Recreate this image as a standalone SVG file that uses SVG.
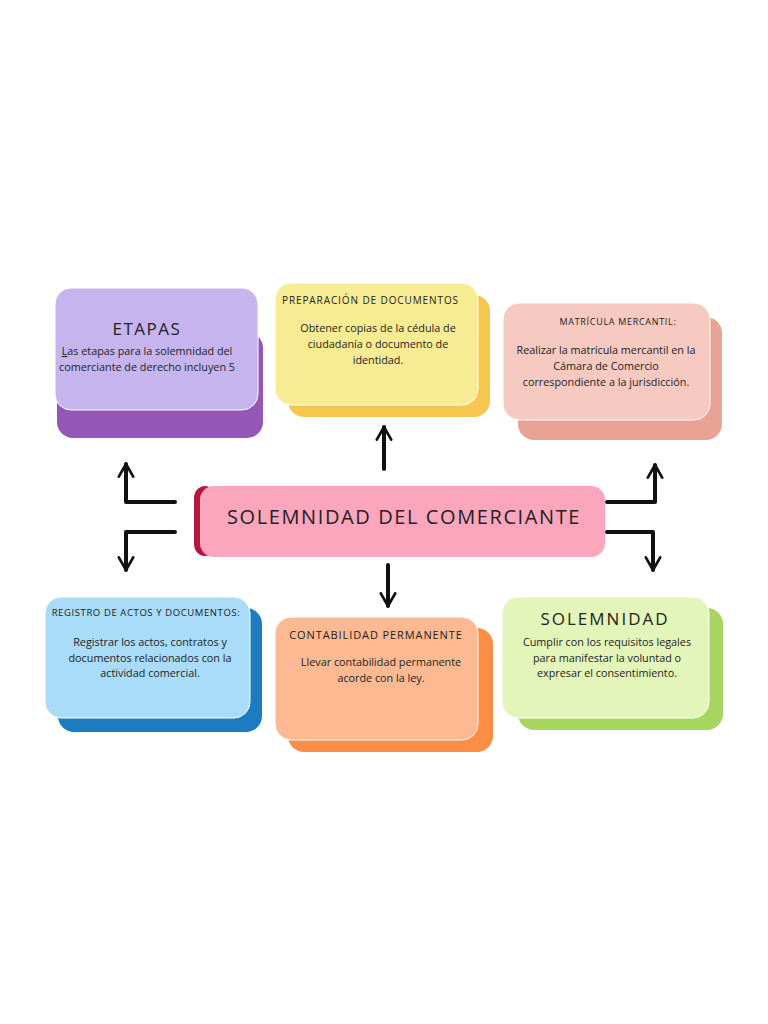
<svg xmlns="http://www.w3.org/2000/svg" width="768" height="1024" viewBox="0 0 768 1024">
<defs>
<style>
.title{font-family:"Open Sans","Noto Sans",sans-serif;fill:#222;}
.body{font-family:"Open Sans","Noto Sans",sans-serif;font-size:10.8px;fill:#222;text-anchor:middle;}
.front{stroke:#ffffff;stroke-width:1;}
.conn{stroke:#111;stroke-width:4;fill:none;stroke-linecap:round;stroke-linejoin:round;}
</style>
<marker id="ah" viewBox="0 0 10 10" refX="8" refY="5" markerWidth="4.5" markerHeight="4.5" orient="auto" markerUnits="strokeWidth">
<path d="M1,1 L8,5 L1,9" fill="none" stroke="#111" stroke-width="1.5" stroke-linecap="round" stroke-linejoin="round"/>
</marker>
</defs>
<rect width="768" height="1024" fill="#ffffff"/>

<g id="etapas">
<rect x="57" y="332" width="206" height="106" rx="16" fill="#9457b7"/>
<rect class="front" x="55" y="288" width="203" height="122" rx="16" fill="#c6b4ef"/>
<text class="title" x="147" y="335" font-size="17" text-anchor="middle" letter-spacing="1.5">ETAPAS</text>
<text class="body" x="147" y="355"><tspan text-decoration="underline">L</tspan>as etapas para la solemnidad del</text>
<text class="body" x="147" y="371">comerciante de derecho incluyen 5</text>
</g>

<g id="preparacion">
<rect x="288" y="295" width="202" height="122" rx="16" fill="#f7c74d"/>
<rect class="front" x="275" y="283" width="203" height="122" rx="16" fill="#f7ec93"/>
<text class="title" x="282" y="304" font-size="10" letter-spacing="0.9">PREPARACIÓN DE DOCUMENTOS</text>
<text class="body" x="378" y="332">Obtener copias de la cédula de</text>
<text class="body" x="378" y="348">ciudadanía o documento de</text>
<text class="body" x="378" y="364">identidad.</text>
</g>

<g id="matricula">
<rect x="518" y="317" width="204" height="123" rx="16" fill="#e9a394"/>
<rect class="front" x="503" y="303" width="207" height="117" rx="16" fill="#f6cac1"/>
<text class="title" x="618" y="325" font-size="9" text-anchor="middle" letter-spacing="0.7">MATRÍCULA MERCANTIL:</text>
<text class="body" x="606" y="354">Realizar la matrícula mercantil en la</text>
<text class="body" x="606" y="370">Cámara de Comercio</text>
<text class="body" x="606" y="386">correspondiente a la jurisdicción.</text>
</g>

<g id="centro">
<rect x="194" y="486" width="22" height="70" rx="12" fill="#b5173f"/>
<rect x="200" y="486" width="405" height="71" rx="14" fill="#fba6bd"/>
<text class="title" x="404" y="524" font-size="20" text-anchor="middle" letter-spacing="1.6">SOLEMNIDAD DEL COMERCIANTE</text>
</g>

<g id="registro">
<rect x="58" y="608" width="204" height="124" rx="16" fill="#1c7cbf"/>
<rect class="front" x="45" y="597" width="205" height="121" rx="16" fill="#a8dcf9"/>
<text class="title" x="146" y="616" font-size="9.5" text-anchor="middle" letter-spacing="0.6">REGISTRO DE ACTOS Y DOCUMENTOS:</text>
<text class="body" x="150" y="646">Registrar los actos, contratos y</text>
<text class="body" x="150" y="662">documentos relacionados con la</text>
<text class="body" x="150" y="677">actividad comercial.</text>
</g>

<g id="contabilidad">
<rect x="288" y="628" width="205" height="124" rx="16" fill="#fb8d45"/>
<rect class="front" x="275" y="617" width="203" height="123" rx="16" fill="#fdb991"/>
<text class="title" x="376" y="639" font-size="11" text-anchor="middle" letter-spacing="0.9">CONTABILIDAD PERMANENTE</text>
<text class="body" x="381" y="666">Llevar contabilidad permanente</text>
<text class="body" x="381" y="682">acorde con la ley.</text>
</g>

<g id="solemnidad">
<rect x="518" y="608" width="205" height="122" rx="16" fill="#a8d55f"/>
<rect class="front" x="502" y="597" width="207" height="121" rx="16" fill="#e4f5b9"/>
<text class="title" x="605" y="625" font-size="17" text-anchor="middle" letter-spacing="2">SOLEMNIDAD</text>
<text class="body" x="607" y="646">Cumplir con los requisitos legales</text>
<text class="body" x="607" y="662">para manifestar la voluntad o</text>
<text class="body" x="607" y="677">expresar el consentimiento.</text>
</g>

<g id="connectors">
<path class="conn" d="M175,502 L126,502 L126,464" marker-end="url(#ah)"/>
<path class="conn" d="M175,532 L126,532 L126,570" marker-end="url(#ah)"/>
<path class="conn" d="M607,502 L655,502 L655,465" marker-end="url(#ah)"/>
<path class="conn" d="M607,532 L653,532 L653,570" marker-end="url(#ah)"/>
<path class="conn" d="M384,469 L384,427" marker-end="url(#ah)"/>
<path class="conn" d="M388,565 L388,606" marker-end="url(#ah)"/>
</g>
</svg>
